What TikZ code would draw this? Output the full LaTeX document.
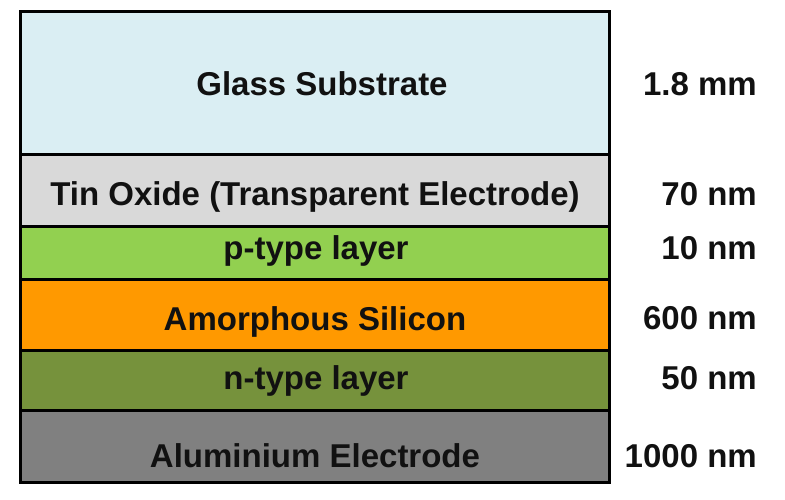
\documentclass[tikz,border=0pt]{standalone}
\usepackage{fontspec}
\setmainfont{Liberation Sans}
\definecolor{glassc}{HTML}{DAEEF3}
\definecolor{tinc}{HTML}{D9D9D9}
\definecolor{pc}{HTML}{92D050}
\definecolor{amc}{HTML}{FF9900}
\definecolor{nc}{HTML}{76923C}
\definecolor{alc}{HTML}{808080}
\definecolor{txt}{HTML}{111111}
\tikzset{
  layer/.style={draw=black, line width=3pt, inner sep=0pt, outer sep=0pt, minimum width=589pt},
  lbl/.style={anchor=base, inner sep=0pt, text=txt, font=\fontsize{33}{39}\selectfont\bfseries},
  thick/.style={anchor=base east, inner sep=0pt, text=txt, font=\fontsize{33}{39}\selectfont\bfseries}
}
\begin{document}
\begin{tikzpicture}[x=1pt,y=-1pt]
\useasboundingbox (0,0) rectangle (785,500);
\node[layer, fill=glassc, minimum height=143pt] (glass) at (314.5,83.5) {};
\node[layer, fill=tinc, minimum height=71pt] (tin) at (314.5,190.5) {};
\node[layer, fill=pc, minimum height=53pt] (ptype) at (314.5,252.5) {};
\node[layer, fill=amc, minimum height=71pt] (amor) at (314.5,314.5) {};
\node[layer, fill=nc, minimum height=60pt] (ntype) at (314.5,380) {};
\node[layer, fill=alc, minimum height=72pt] (alu) at (314.5,446) {};
\node[lbl] (tglass) at (322,96) {Glass Substrate};
\node[lbl] (ttin) at (315,205) {Tin Oxide (Transparent Electrode)};
\node[lbl] (tp) at (316,259.5) {p-type layer};
\node[lbl] (tam) at (315,330) {Amorphous Silicon};
\node[lbl] (tn) at (316,389) {n-type layer};
\node[lbl] (tal) at (315,467) {Aluminium Electrode};
\node[thick] (d1) at (757,96) {1.8 mm};
\node[thick] (d2) at (757,205) {70 nm};
\node[thick] (d3) at (757,259) {10 nm};
\node[thick] (d4) at (757,329) {600 nm};
\node[thick] (d5) at (757,389) {50 nm};
\node[thick] (d6) at (757,467) {1000 nm};
\end{tikzpicture}
\end{document}
